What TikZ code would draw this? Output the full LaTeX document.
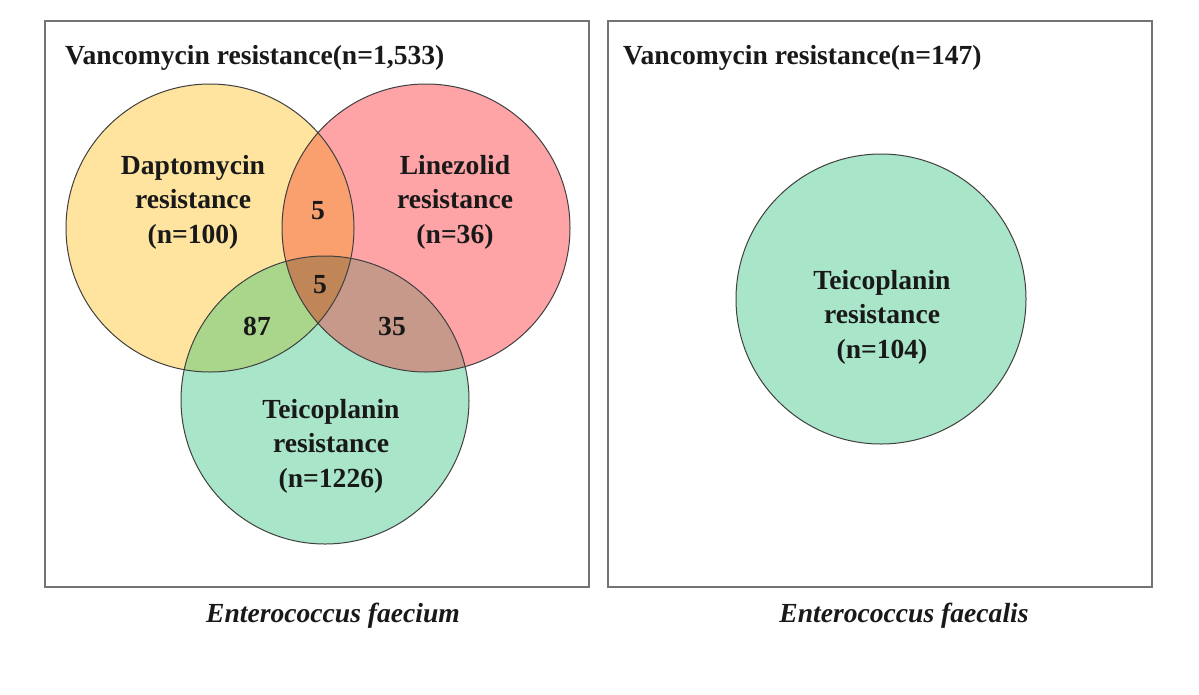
\documentclass[tikz,border=0pt]{standalone}
\usepackage{fontspec}
\setmainfont{Liberation Serif}
\usetikzlibrary{positioning}

\definecolor{dapfill}{HTML}{FFE4A0}
\definecolor{linfill}{HTML}{FFA4A6}
\definecolor{teifill}{HTML}{A8E5C9}
\definecolor{daplin}{HTML}{F9A06E}
\definecolor{daptei}{HTML}{A9D68A}
\definecolor{lintei}{HTML}{C7998A}
\definecolor{allthree}{HTML}{C08657}

\tikzset{
	panel/.style={draw=black!55, line width=2pt},
	ring/.style={draw=black!75, line width=1pt},
	lbl/.style={font=\fontsize{27.6}{34.5}\selectfont\bfseries, align=center, text=black!90, inner sep=0pt},
	species/.style={font=\fontsize{27.6}{34.5}\selectfont\bfseries\itshape, text=black!90, inner sep=0pt}
}

\begin{document}
\begin{tikzpicture}[x=1pt,y=-1pt]
			%%%%% START %%%%%
			\useasboundingbox (0,0) rectangle (1199,694);
			\fill[white] (0,0) rectangle (1199,694);
			
			\coordinate (dap) at (210, 228);
			\coordinate (lin) at (426, 228);
			\coordinate (tei) at (325, 400);
			\coordinate (tei2) at (881, 299);
			
			% faecium panel
			\draw[panel] (45, 21) rectangle (589, 587);
			
			\fill[dapfill] (dap) circle (144);
			\fill[linfill] (lin) circle (144);
			\fill[teifill] (tei) circle (144);
			
			\begin{scope}
				\clip (dap) circle (144);
				\fill[daplin] (lin) circle (144);
				\fill[daptei] (tei) circle (144);
			\end{scope}
			\begin{scope}
				\clip (lin) circle (144);
				\fill[lintei] (tei) circle (144);
				\clip (tei) circle (144);
				\fill[allthree] (dap) circle (144);
			\end{scope}
			
			\draw[ring] (dap) circle (144);
			\draw[ring] (lin) circle (144);
			\draw[ring] (tei) circle (144);
			
			\node[lbl, anchor=base west] (vanA) at (65, 64) {Vancomycin resistance(n=1,533)};
			\node[lbl] (dapL) at (193, 202) {Daptomycin\\resistance\\(n=100)};
			\node[lbl] (linL) at (455, 202) {Linezolid\\resistance\\(n=36)};
			\node[lbl] (teiL) at (331, 446) {Teicoplanin\\resistance\\(n=1226)};
			\node[lbl] (dlN) at (318, 211) {5};
			\node[lbl] (allN) at (320, 285) {5};
			\node[lbl] (dtN) at (257, 326) {87};
			\node[lbl] (ltN) at (392, 326) {35};
			
			% faecalis panel
			\draw[panel] (608, 21) rectangle (1152, 587);
			
			\fill[teifill] (tei2) circle (145);
			\draw[ring] (tei2) circle (145);
			
			\node[lbl, anchor=base west] (vanB) at (623, 64) {Vancomycin resistance(n=147)};
			\node[lbl] (tei2L) at (882, 317) {Teicoplanin\\resistance\\(n=104)};
			
			\node[species, anchor=base] (capA) at (333, 622) {Enterococcus faecium};
			\node[species, anchor=base] (capB) at (904, 622) {Enterococcus faecalis};
			%%%%% END %%%%%
\end{tikzpicture}
\end{document}
